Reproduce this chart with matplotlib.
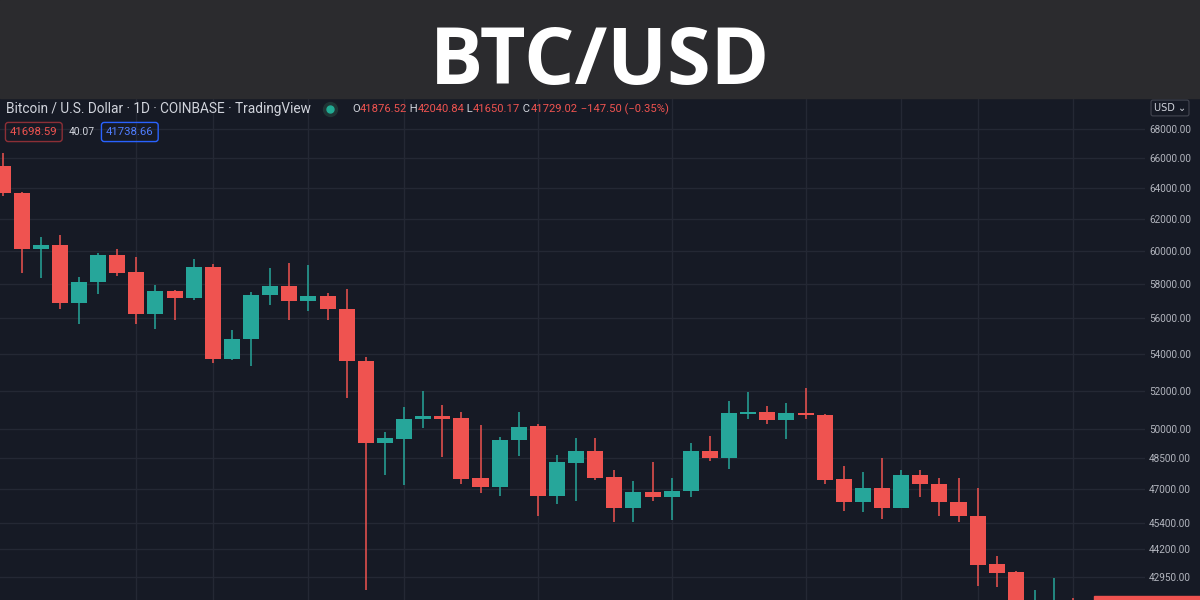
import matplotlib
matplotlib.use('Agg')
import matplotlib.pyplot as plt
from matplotlib.ticker import FixedLocator, NullLocator, FuncFormatter
from matplotlib.patches import Rectangle
from matplotlib.lines import Line2D
import numpy as np

# daily candles (USD)
opens = [65470, 63680, 60130, 60380, 56880, 58100, 59760, 58730, 56230, 57590,
         57180, 59030, 53730, 54800, 57330, 57870, 56990, 57290, 56560, 53620,
         49260, 49500, 50530, 50670, 50540, 47520, 47100, 49420, 50120, 46650,
         48280, 48880, 47590, 46100, 46840, 46600, 46890, 48880, 48540, 50780,
         50850, 50430, 50830, 50720, 47480, 46370, 47060, 46120, 47690, 47250,
         46370, 45730, 43520, 43160, 41560, 41740, 41876.52]
highs = [66350, 63750, 60870, 61000, 58420, 59880, 60120, 59630, 57940, 57650,
         59510, 59210, 55320, 57530, 58970, 59260, 59140, 57470, 57700, 53840,
         49830, 51150, 52000, 51230, 50850, 50210, 49590, 50850, 50240, 48690,
         49550, 49550, 47930, 47370, 48330, 47560, 49280, 49640, 51420, 51900,
         51200, 51330, 52160, 50750, 48130, 47840, 48540, 47950, 47950, 47540,
         47560, 47070, 43880, 43200, 42390, 42900, 42040.84]
lows = [63490, 58670, 58380, 56530, 55660, 57410, 58480, 55670, 55380, 55890,
        57060, 53510, 53650, 53320, 56760, 55890, 56440, 55890, 51630, 42390,
        47680, 47190, 50060, 48580, 47260, 46830, 46670, 48610, 45700, 46270,
        46420, 47450, 45460, 45460, 46410, 45540, 46600, 48400, 47970, 50480,
        50240, 49470, 50480, 47260, 45970, 45900, 45600, 46100, 46600, 45700,
        45420, 42560, 42520, 40900, 40600, 41470, 41650.17]
closes = [63680, 60130, 60380, 56880, 58100, 59770, 58670, 56230, 57590, 57180,
          59030, 53730, 54800, 57350, 57870, 56990, 57290, 56560, 53620, 49260,
          49520, 50530, 50670, 50530, 47490, 47100, 49450, 50110, 46650, 48330,
          48880, 47530, 46100, 46840, 46600, 46910, 48880, 48540, 50830, 50880,
          50430, 50800, 50720, 47450, 46370, 47060, 46120, 47690, 47230, 46360,
          45700, 43470, 43120, 41560, 41740, 41880, 41729.02]

price_ticks = [68000, 66000, 64000, 62000, 60000, 58000, 56000, 54000, 52000,
               50000, 48500, 47000, 45400, 44200, 42950]
date_grid = [7, 11, 16, 21, 28, 35, 42, 47, 51, 56]

BG = '#161a25'
BAND = '#2b2b2e'
GRID = '#242834'
RED = '#ef5350'
GREEN = '#26a69a'
TXT = '#d1d4dc'
FONT = ['Roboto', 'DejaVu Sans']

W, H = 1200, 600
def fx(x): return x / W
def fy(y): return 1 - y / H

fig = plt.figure(figsize=(12, 6), dpi=100, facecolor=BG)

# title band
fig.patches.append(Rectangle((0, fy(98)), 1, 98 / H, transform=fig.transFigure,
                             color=BAND, zorder=0))
fig.text(0.5, fy(84), 'BTC/USD', ha='center', va='baseline', fontsize=57,
         fontweight='bold', color='white', family=['Open Sans', 'DejaVu Sans'])

ax = fig.add_axes([0, 0, 1145 / W, 502 / H])
ax.set_facecolor(BG)
for s in ax.spines.values():
    s.set_visible(False)

o = np.array(opens); h = np.array(highs); l = np.array(lows); c = np.array(closes)
x = np.arange(len(o))
cols = np.where(c >= o, GREEN, RED)

ax.set_yscale('log')
ax.set_ylim(41948, 70197)
ax.set_xlim(-2.5 / 19.12, (1145 - 2.5) / 19.12)
ax.yaxis.set_major_locator(FixedLocator(price_ticks))
ax.yaxis.set_minor_locator(NullLocator())
ax.yaxis.set_major_formatter(FuncFormatter(lambda v, p: f'{v:.2f}'))
ax.yaxis.tick_right()
ax.tick_params(axis='y', length=0, pad=3, labelsize=7.2, labelcolor='#b2b5be')
for lab in ax.get_yticklabels():
    lab.set_family(FONT)
ax.set_xticks([])
ax.grid(axis='y', color=GRID, lw=1)
for g in date_grid:
    ax.axvline(g, color=GRID, lw=1, zorder=0)
ax.set_axisbelow(True)

ax.vlines(x, l, h, colors=cols, lw=1.1, zorder=2)
ax.bar(x, np.abs(c - o), bottom=np.minimum(o, c), width=0.84, color=cols,
       lw=0, zorder=3)

# last price label on the scale
fig.canvas.draw()
ypix = ax.transData.transform((0, closes[-1]))[1]
fig.patches.append(Rectangle((fx(1094), (ypix - 9) / H), 1 - fx(1094), 18 / H,
                             transform=fig.transFigure, color=RED, zorder=5))

# header rows
fig.text(fx(6), fy(109), 'Bitcoin / U.S. Dollar · 1D · COINBASE · TradingView',
         color=TXT, fontsize=9.8, va='center', family=FONT)
fig.add_artist(Line2D([fx(330)], [fy(109)], marker='o', markersize=10,
                      color='#1f3535', transform=fig.transFigure, lw=0))
fig.add_artist(Line2D([fx(330)], [fy(109)], marker='o', markersize=5,
                      color='#22ab94', transform=fig.transFigure, lw=0))

renderer = fig.canvas.get_renderer()
parts = [('O', TXT), ('41876.52', RED), (' H', TXT), ('42040.84', RED),
         (' L', TXT), ('41650.17', RED), (' C', TXT), ('41729.02', RED),
         (' −147.50 (−0.35%)', RED)]
xp = 352
for s, col in parts:
    t = fig.text(fx(xp), fy(109), s, color=col, fontsize=8.1, va='center',
                 family=FONT)
    xp += t.get_window_extent(renderer).width

fig.text(fx(10), fy(132), '41698.59', color=RED, fontsize=8.2, va='center',
         family=FONT, bbox=dict(boxstyle='round,pad=0.4,rounding_size=0.25',
                                fc='none', ec='#8c2f36', lw=1))
fig.text(fx(69), fy(132), '40.07', color=TXT, fontsize=7.4, va='center',
         family=FONT)
fig.text(fx(106), fy(132), '41738.66', color='#4f7dff', fontsize=8.2,
         va='center', family=FONT,
         bbox=dict(boxstyle='round,pad=0.4,rounding_size=0.25', fc='none',
                   ec='#2962ff', lw=1))

fig.text(fx(1170), fy(108), 'USD ⌄', color=TXT, fontsize=7, ha='center',
         va='center', family=['DejaVu Sans'],
         bbox=dict(boxstyle='round,pad=0.3,rounding_size=0.2', fc=BG,
                   ec='#434651', lw=0.8))

fig.savefig('out.png', dpi=100, facecolor=BG)
